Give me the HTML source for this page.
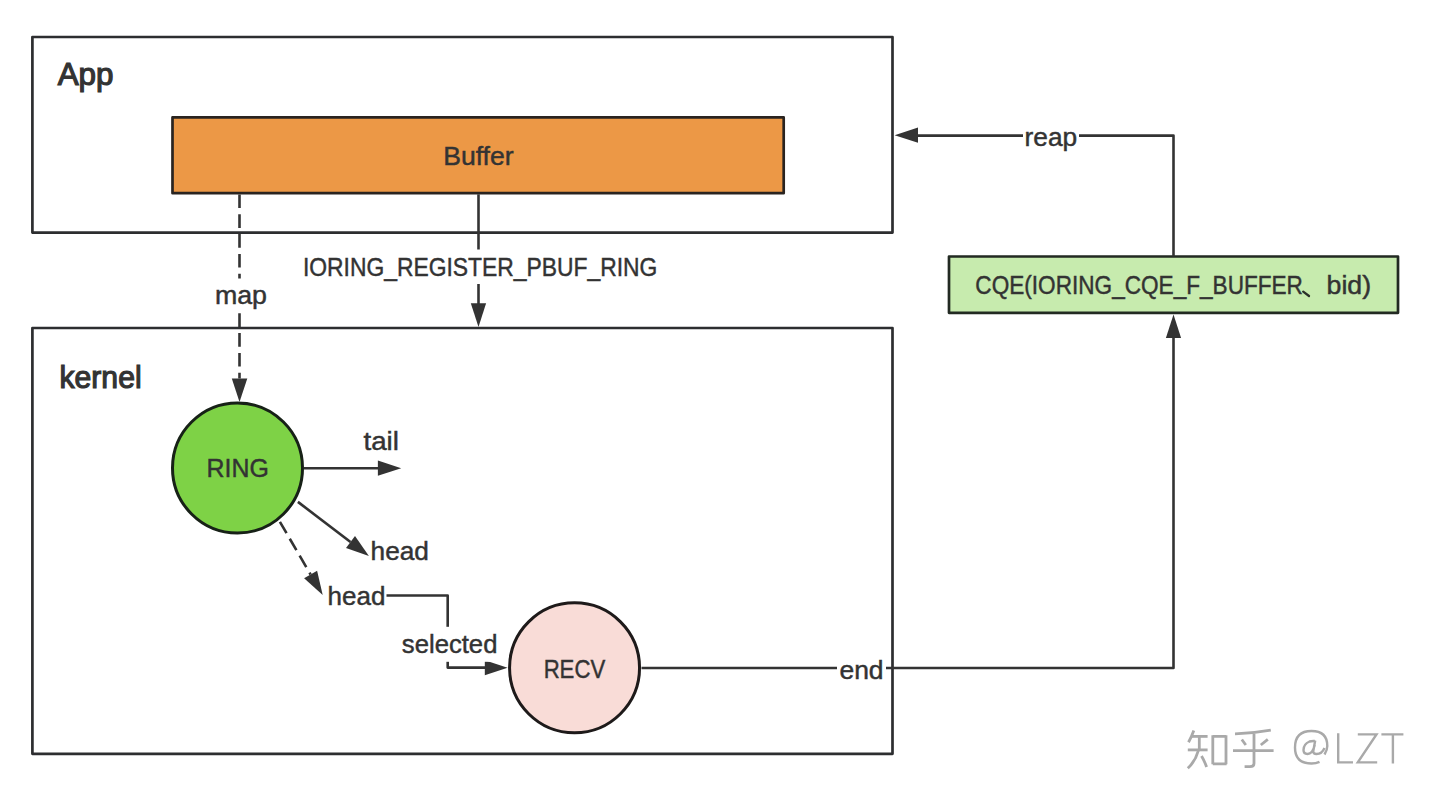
<!DOCTYPE html>
<html>
<head>
<meta charset="utf-8">
<style>
html,body{margin:0;padding:0;background:#fff;width:1440px;height:806px;overflow:hidden;}
svg{display:block;}
text{font-family:"Liberation Sans",sans-serif;fill:#333;}
</style>
</head>
<body>
<svg width="1440" height="806" viewBox="0 0 1440 806">
<g fill="none" stroke="#2d2e30" stroke-width="2.7" stroke-linejoin="round">
  <!-- App box -->
  <rect x="32.4" y="37" width="860.1" height="195.6"/>
  <!-- Kernel box -->
  <rect x="32.4" y="328" width="860.1" height="425.8"/>
</g>
<!-- Buffer -->
<rect x="172.5" y="117.4" width="611.2" height="75.8" fill="#EC9846" stroke="#2a2420" stroke-width="2.7" stroke-linejoin="round"/>
<!-- CQE -->
<rect x="949" y="256.5" width="449" height="56.3" fill="#C7EBAE" stroke="#222a22" stroke-width="2.7" stroke-linejoin="round"/>
<!-- RING -->
<circle cx="237.5" cy="468" r="65" fill="#7ED246" stroke="#172117" stroke-width="3"/>
<!-- RECV -->
<circle cx="574.55" cy="667.8" r="65" fill="#F9DCD7" stroke="#1e1a1a" stroke-width="3"/>

<!-- edges -->
<g fill="none" stroke="#333" stroke-width="2.6" stroke-linejoin="round">
  <path d="M239.5 194.5 V378.4" stroke-dasharray="13.6 6.2"/>
  <path d="M478.5 194.3 V304"/>
  <path d="M1173.5 256.5 V135.6 H917"/>
  <path d="M641.5 668 H1173.5 V338"/>
  <path d="M386.5 595.5 H447.7 V667.6 H485"/>
  <path d="M304 468.2 H378"/>
  <path d="M297.9 501.9 L350.5 542"/>
  <path d="M279.9 521.8 L310.6 574.5" stroke-dasharray="13.2 6.4"/>
</g>
<g fill="#333" stroke="none">
  <!-- map arrow down -->
  <polygon points="239.5,402 231.8,378.4 247.3,378.4"/>
  <!-- IORING arrow down -->
  <polygon points="478.5,327 470.8,303.3 486.1,303.3"/>
  <!-- reap arrow left -->
  <polygon points="894.6,135.3 918,127.6 918,142.8"/>
  <!-- cqe arrow up -->
  <polygon points="1173.5,314.6 1165.9,338 1181.1,338"/>
  <!-- selected arrow right -->
  <polygon points="507.6,667.7 484.8,660.3 484.8,675.3"/>
  <!-- tail arrow right -->
  <polygon points="401.2,468.2 377.9,460.6 377.9,475.8"/>
  <!-- head solid -->
  <polygon points="368.9,556 346,548 355,536.1"/>
  <!-- head dashed -->
  <polygon points="322.7,595 304.1,578.2 317.1,570.8"/>
</g>

<!-- label backgrounds -->
<g fill="#fff">
  <rect x="212" y="278.5" width="58" height="34.5"/>
  <rect x="300" y="249.5" width="362" height="34.5"/>
  <rect x="1023" y="120" width="56" height="32"/>
  <rect x="837" y="652" width="49" height="32"/>
  <rect x="398" y="626.8" width="102" height="35"/>
</g>

<!-- texts -->
<text transform="translate(57.70 84.80) scale(1.0025 1)" font-size="31.30" stroke="#333" stroke-width="1.2">App</text>
<text transform="translate(59.49 387.70) scale(0.9543 1)" font-size="31.60" stroke="#333" stroke-width="1.2">kernel</text>
<text transform="translate(443.17 164.70) scale(1.0346 1)" font-size="25.70" stroke="#333" stroke-width="0.45">Buffer</text>
<text transform="translate(1024.56 145.80) scale(1.0232 1)" font-size="25.70" stroke="#333" stroke-width="0.45">reap</text>
<text transform="translate(975.37 293.50) scale(0.8793 1)" font-size="25.70" stroke="#333" stroke-width="0.45">CQE(IORING_CQE_F_BUFFER</text>
<text transform="translate(1326.53 293.60) scale(1.0410 1)" font-size="25.70" stroke="#333" stroke-width="0.45">bid)</text>
<text transform="translate(302.94 275.80) scale(0.8898 1)" font-size="25.70" stroke="#333" stroke-width="0.45">IORING_REGISTER_PBUF_RING</text>
<text transform="translate(214.93 303.90) scale(1.0419 1)" font-size="25.70" stroke="#333" stroke-width="0.45">map</text>
<text transform="translate(206.61 477.30) scale(0.9703 1)" font-size="25.70" stroke="#333" stroke-width="0.45">RING</text>
<text transform="translate(363.45 449.90) scale(1.0790 1)" font-size="25.70" stroke="#333" stroke-width="0.45">tail</text>
<text transform="translate(370.56 559.70) scale(1.0221 1)" font-size="25.70" stroke="#333" stroke-width="0.45">head</text>
<text transform="translate(327.58 604.80) scale(1.0109 1)" font-size="25.70" stroke="#333" stroke-width="0.45">head</text>
<text transform="translate(401.83 653.00) scale(0.9990 1)" font-size="25.70" stroke="#333" stroke-width="0.45">selected</text>
<text transform="translate(543.63 677.50) scale(0.8621 1)" font-size="25.70" stroke="#333" stroke-width="0.45">RECV</text>
<text transform="translate(839.44 679.10) scale(1.0301 1)" font-size="25.70" stroke="#333" stroke-width="0.45">end</text>
<!-- watermark -->
<g fill="none" stroke="#a9a9a9" stroke-width="2.8" stroke-linecap="butt" stroke-linejoin="miter">
  <!-- 知 -->
  <path d="M1193.8 730.5 Q1191.5 737 1188.5 742.3"/>
  <path d="M1191 736.4 H1207.6"/>
  <path d="M1199.3 736.4 V750"/>
  <path d="M1187.8 749.9 H1207.6"/>
  <path d="M1198.4 750.5 Q1195.5 761 1187.8 768.3"/>
  <path d="M1201.5 756 Q1204.5 761 1206.6 767"/>
  <path d="M1212.8 735.2 V764.2 M1212.8 736.4 H1226 M1226 735.2 V764.2 M1212.8 763.8 H1226.6"/>
  <!-- 乎 -->
  <path d="M1235 733.8 Q1254 733.3 1270.8 730.2"/>
  <path d="M1241.8 739.5 L1245.8 745"/>
  <path d="M1267.8 739.3 L1260.8 745"/>
  <path d="M1233 750.6 H1273.6"/>
  <path d="M1254 733.8 V763.5 Q1254 766.6 1250 766.6 H1244.6"/>
</g>
<g fill="none" stroke="#a9a9a9" stroke-width="2.4" stroke-linecap="butt" stroke-linejoin="miter">
  <!-- @ -->
  <path d="M1324.5 754.5 Q1327.3 750 1327.3 746 Q1327.3 731 1311.5 731 Q1295 731 1295 747.5 Q1295 763.5 1311.5 763.5 Q1316 763.5 1319.5 761.8"/>
  <path d="M1314.8 741 Q1311.5 740.8 1309.5 741.5 Q1303.5 744 1303.5 750 Q1303.5 754 1307.5 754 Q1312.5 754 1314.8 745 M1315.2 740.5 L1313.3 751 Q1313 754 1316.5 754 Q1322 754 1324.5 748"/>
  <!-- L Z T -->
  <path d="M1338.2 733.3 V762.4 H1353"/>
  <path d="M1357.8 734.4 H1376.5 L1357.8 762.4 H1377.2"/>
  <path d="M1381.4 734.4 H1403.4 M1392.9 734.4 V763.5"/>
</g>
<!-- CJK comma -->
<path d="M1303.2 291.6 L1309 296" stroke="#2a302a" stroke-width="2.3" stroke-linecap="round" fill="none"/>
</svg>
</body>
</html>
